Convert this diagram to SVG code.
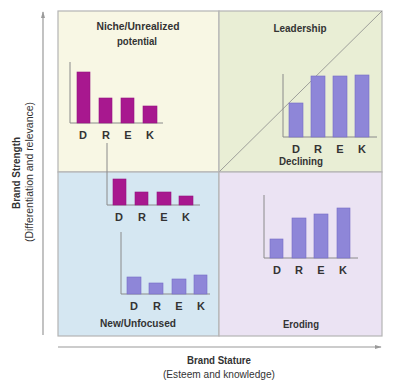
<svg xmlns="http://www.w3.org/2000/svg" width="400" height="387" viewBox="0 0 400 387">
<defs>
<marker id="arr" viewBox="0 0 10 10" refX="9" refY="5" markerWidth="7" markerHeight="7" orient="auto" markerUnits="userSpaceOnUse">
<path d="M0,2 L10,5 L0,8 z" fill="#9a9a9a"/>
</marker>
</defs>
<style>
.q{stroke:#b4b4b4;stroke-width:1.2}
.t{font-family:"Liberation Sans",Arial,sans-serif;font-weight:bold;font-size:11.5px;fill:#333;text-anchor:middle}
.l{font-family:"Liberation Sans",Arial,sans-serif;font-weight:bold;font-size:11px;fill:#333;text-anchor:middle}
.ax{stroke:#8a8a8a;stroke-width:1;fill:none}
.m{fill:#a8188f;stroke:#951480;stroke-width:0.6}
.p{fill:#8e86d8;stroke:#756cc6;stroke-width:0.6}
.axl{fill:#333;font-family:"Liberation Sans",Arial,sans-serif;text-anchor:middle}
</style>
<rect width="400" height="387" fill="#ffffff"/>

<g id="quad-niche">
<rect class="q" x="58" y="11" width="161" height="161" fill="#f8f7e4"/>
<text class="t" x="138" y="30" textLength="83" lengthAdjust="spacingAndGlyphs">Niche/Unrealized</text>
<text class="t" x="137" y="45" textLength="40" lengthAdjust="spacingAndGlyphs">potential</text>
</g>
<g id="quad-leadership">
<rect class="q" x="219" y="11" width="163" height="161" fill="#e9eed5"/>
<line x1="219" y1="172" x2="382" y2="11" stroke="#8a8a8a" stroke-width="0.8"/>
<text class="t" x="300" y="32" textLength="53" lengthAdjust="spacingAndGlyphs">Leadership</text>
<text class="t" x="301" y="165" textLength="44" lengthAdjust="spacingAndGlyphs">Declining</text>
</g>
<g id="quad-new">
<rect class="q" x="58" y="172" width="161" height="164" fill="#d5e7f2"/>
<text class="t" x="138" y="327" textLength="76" lengthAdjust="spacingAndGlyphs">New/Unfocused</text>
</g>
<g id="quad-eroding">
<rect class="q" x="219" y="172" width="163" height="164" fill="#ebe3f3"/>
<text class="t" x="301" y="328" textLength="36" lengthAdjust="spacingAndGlyphs">Eroding</text>
</g>

<g id="chart-niche">
<path class="ax" d="M70,62 V123 H163"/>
<rect class="m" x="77" y="72" width="13" height="51"/>
<rect class="m" x="99" y="98" width="13" height="25"/>
<rect class="m" x="121" y="98" width="13" height="25"/>
<rect class="m" x="143" y="106" width="14" height="17"/>
<text class="l" x="83" y="139">D</text><text class="l" x="106" y="139">R</text><text class="l" x="128" y="139">E</text><text class="l" x="150" y="139">K</text>
</g>
<g id="chart-transition">
<path class="ax" d="M107,143 V205 H200"/>
<rect class="m" x="113" y="179" width="13" height="26"/>
<rect class="m" x="135" y="192" width="13" height="13"/>
<rect class="m" x="157" y="192" width="14" height="13"/>
<rect class="m" x="179" y="196" width="14" height="9"/>
<text class="l" x="119" y="221">D</text><text class="l" x="142" y="221">R</text><text class="l" x="164" y="221">E</text><text class="l" x="186" y="221">K</text>
</g>
<g id="chart-new">
<path class="ax" d="M121,232 V294 H210"/>
<rect class="p" x="127" y="277" width="14" height="17"/>
<rect class="p" x="149" y="283" width="14" height="11"/>
<rect class="p" x="172" y="279" width="14" height="15"/>
<rect class="p" x="194" y="275" width="13" height="19"/>
<text class="l" x="134" y="310">D</text><text class="l" x="157" y="310">R</text><text class="l" x="179" y="310">E</text><text class="l" x="201" y="310">K</text>
</g>
<g id="chart-leadership">
<path class="ax" d="M283,74 V137 H377"/>
<rect class="p" x="289" y="103" width="14" height="34"/>
<rect class="p" x="311" y="76" width="14" height="61"/>
<rect class="p" x="333" y="76" width="14" height="61"/>
<rect class="p" x="355" y="75" width="14" height="62"/>
<text class="l" x="296" y="153">D</text><text class="l" x="318" y="153">R</text><text class="l" x="340" y="153">E</text><text class="l" x="362" y="153">K</text>
</g>
<g id="chart-eroding">
<path class="ax" d="M264,195 V258 H358"/>
<rect class="p" x="270" y="239" width="13" height="19"/>
<rect class="p" x="292" y="218" width="14" height="40"/>
<rect class="p" x="314" y="214" width="14" height="44"/>
<rect class="p" x="337" y="208" width="13" height="50"/>
<text class="l" x="277" y="274">D</text><text class="l" x="299" y="274">R</text><text class="l" x="321" y="274">E</text><text class="l" x="343" y="274">K</text>
</g>

<g id="connectors">
<line x1="43" y1="335" x2="43" y2="12" stroke="#9a9a9a" stroke-width="1.2" marker-end="url(#arr)"/>
<line x1="58" y1="347" x2="381" y2="347" stroke="#9a9a9a" stroke-width="1.2" marker-end="url(#arr)"/>
</g>

<g id="axis-labels">
<text class="axl" x="219" y="364" font-size="11.5px" font-weight="bold" textLength="64" lengthAdjust="spacingAndGlyphs">Brand Stature</text>
<text class="axl" x="219" y="378" font-size="10.5px" fill="#444" textLength="112" lengthAdjust="spacingAndGlyphs">(Esteem and knowledge)</text>
<text class="axl" transform="translate(19.5,173) rotate(-90)" font-size="11.5px" font-weight="bold" textLength="72" lengthAdjust="spacingAndGlyphs">Brand Strength</text>
<text class="axl" transform="translate(33,172) rotate(-90)" font-size="10.5px" fill="#444" textLength="140" lengthAdjust="spacingAndGlyphs">(Differentiation and relevance)</text>
</g>
</svg>
